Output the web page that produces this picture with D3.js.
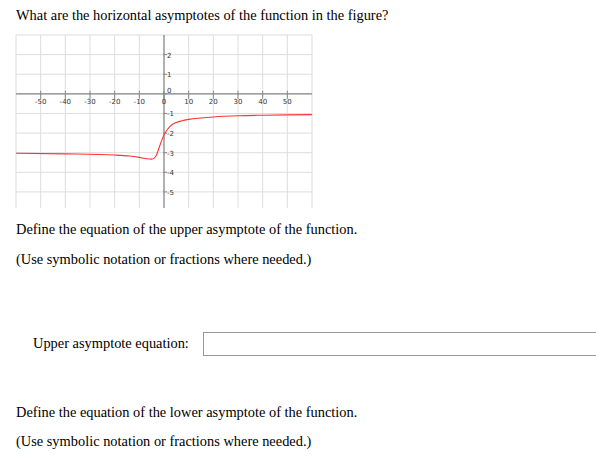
<!DOCTYPE html><html><head><script src="https://d3js.org/d3.v7.min.js"></script>
<style>body{margin:0;background:#fff;font-family:"Liberation Serif",serif;}svg{display:block}</style></head><body>
<svg id="s" width="596" height="467"></svg>
<script>
const xTicks=[-50,-40,-30,-20,-10,0,10,20,30,40,50];
const yTicks=[-5,-4,-3,-2,-1,0,1,2];
const curveX=[-60,-40,-20,-14,-10,-7,-5,-4,-3,-2,-1,0,1,2,3,5,7,10,15,20,30,40,50,60];
const curveY=[-3.03,-3.06,-3.12,-3.17,-3.24,-3.31,-3.33,-3.28,-3.1,-2.75,-2.4,-2.1,-1.88,-1.72,-1.6,-1.46,-1.38,-1.3,-1.23,-1.18,-1.12,-1.09,-1.07,-1.06];
const svg=d3.select("#s");
const x=d3.scaleLinear().domain([-60,60]).range([16,312]);
const y=d3.scaleLinear().domain([3,-5.82]).range([35,208]);
const g=svg.append("g");
d3.range(-60,61,10).forEach(v=>g.append("line").attr("x1",x(v)).attr("x2",x(v)).attr("y1",35).attr("y2",208).attr("stroke","#ddd"));
d3.range(-5,4,1).forEach(v=>g.append("line").attr("x1",16).attr("x2",312).attr("y1",y(v)).attr("y2",y(v)).attr("stroke","#ddd"));
g.append("line").attr("x1",16).attr("x2",312).attr("y1",y(0)).attr("y2",y(0)).attr("stroke","#888").attr("stroke-width",1.2);
g.append("line").attr("x1",x(0)).attr("x2",x(0)).attr("y1",35).attr("y2",208).attr("stroke","#888").attr("stroke-width",1.2);
xTicks.forEach(v=>{g.append("line").attr("x1",x(v)).attr("x2",x(v)).attr("y1",y(0)-3).attr("y2",y(0)+5).attr("stroke","#888");
 g.append("text").attr("x",x(v)).attr("y",y(0)+10).attr("text-anchor","middle").attr("font-family","DejaVu Sans").attr("font-size",7).attr("fill","#333").text(v);});
yTicks.forEach(v=>{g.append("line").attr("x1",x(0)-1).attr("x2",x(0)+3).attr("y1",y(v)).attr("y2",y(v)).attr("stroke","#888");
 g.append("text").attr("x",x(0)+3).attr("y",y(v)+(v===0?-1:3)).attr("font-family","DejaVu Sans").attr("font-size",7).attr("fill","#333").text(v);});
const pts=curveX.map((v,i)=>[v,curveY[i]]);
g.append("path").attr("d",d3.line().x(d=>x(d[0])).y(d=>y(d[1])).curve(d3.curveMonotoneX)(pts)).attr("fill","none").attr("stroke","#f33").attr("stroke-width",1.1);
const t=(tx,ty,s)=>svg.append("text").attr("x",tx).attr("y",ty).attr("font-size",14.4).attr("fill","#000").text(s);
t(16,20,"What are the horizontal asymptotes of the function in the figure?");
t(16,234,"Define the equation of the upper asymptote of the function.");
t(16,264,"(Use symbolic notation or fractions where needed.)");
t(33,348,"Upper asymptote equation:");
svg.append("rect").attr("x",203.5).attr("y",332.5).attr("width",400).attr("height",23).attr("fill","#fff").attr("stroke","#999");
t(16,417,"Define the equation of the lower asymptote of the function.");
t(16,446,"(Use symbolic notation or fractions where needed.)");
</script></body></html>
